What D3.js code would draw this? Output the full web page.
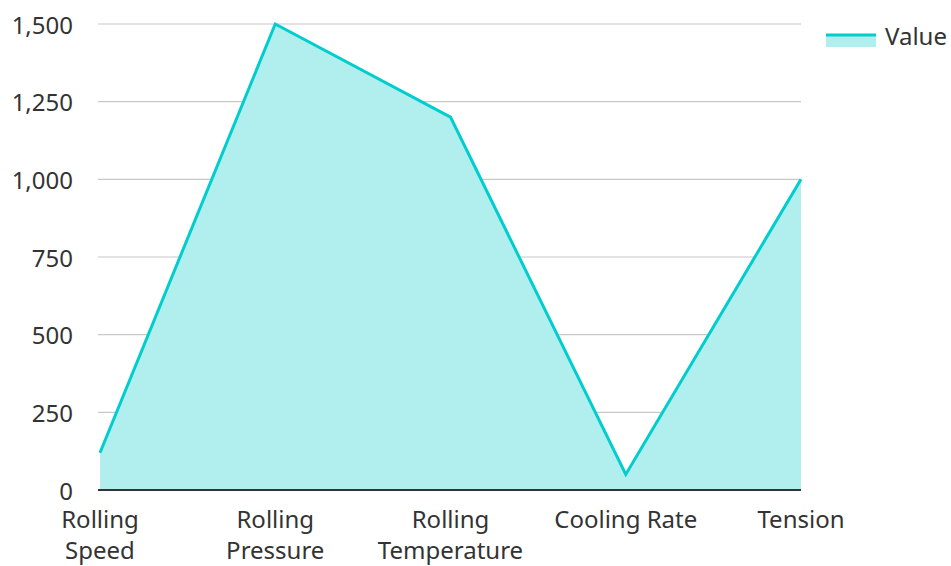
<!DOCTYPE html>
<html>
<head>
<meta charset="utf-8">
<script src="https://cdn.jsdelivr.net/npm/d3@7"></script>
<style>
  html, body { margin: 0; padding: 0; background: #fff; }
  svg text { font-family: "Noto Sans", "Open Sans", sans-serif; fill: #333; }
</style>
</head>
<body>
<svg id="chart" width="951" height="566"></svg>
<script>
// Rolling mill process parameters
const categories = ["Rolling Speed", "Rolling Pressure", "Rolling Temperature", "Cooling Rate", "Tension"];
const values = [120, 1500, 1200, 50, 1000];
const yTicks = [0, 250, 500, 750, 1000, 1250, 1500];
const seriesName = "Value";

const lineColor = "#00cdcd";
const fillColor = "#b1efee";
const fontSize = "24px";

const svg = d3.select("#chart");
const margin = { left: 100, right: 150, top: 24, bottom: 76 };
const W = 951, H = 566;

const x = d3.scalePoint().domain(categories).range([margin.left, W - margin.right]);
const y = d3.scaleLinear().domain([0, 1500]).range([H - margin.bottom, margin.top]);

// horizontal gridlines
svg.append("g").selectAll("line").data(yTicks.filter(d => d !== 0)).join("line")
  .attr("x1", margin.left - 2).attr("x2", W - margin.right)
  .attr("y1", d => y(d)).attr("y2", d => y(d))
  .attr("stroke", "#c8c8c8").attr("stroke-width", 1.2);

// y tick labels
svg.append("g").selectAll("text").data(yTicks).join("text")
  .attr("x", margin.left - 27).attr("y", d => y(d))
  .attr("text-anchor", "end").attr("dominant-baseline", "central")
  .style("font-size", fontSize)
  .text(d => d3.format(",")(d));

const data = categories.map((c, i) => ({ c, v: values[i] }));

// filled area
svg.append("path").datum(data)
  .attr("d", d3.area().x(d => x(d.c)).y0(y(0)).y1(d => y(d.v)))
  .attr("fill", fillColor);

// line
svg.append("path").datum(data)
  .attr("d", d3.line().x(d => x(d.c)).y(d => y(d.v)))
  .attr("fill", "none").attr("stroke", lineColor).attr("stroke-width", 3)
  .attr("stroke-linejoin", "miter");

// x axis baseline
svg.append("line")
  .attr("x1", margin.left - 2).attr("x2", W - margin.right)
  .attr("y1", y(0)).attr("y2", y(0))
  .attr("stroke", "#333").attr("stroke-width", 2);

// x labels (wrapped where they are long)
const labelLines = { "Rolling Speed": ["Rolling", "Speed"], "Rolling Pressure": ["Rolling", "Pressure"], "Rolling Temperature": ["Rolling", "Temperature"] };
const xl = svg.append("g").selectAll("text").data(categories).join("text")
  .attr("x", d => x(d)).attr("y", y(0) + 38)
  .attr("text-anchor", "middle")
  .style("font-size", fontSize);
xl.each(function(d) {
  const lines = labelLines[d] || [d];
  d3.select(this).selectAll("tspan").data(lines).join("tspan")
    .attr("x", x(d)).attr("dy", (l, i) => i === 0 ? 0 : 31)
    .text(l => l);
});

// legend
const lg = svg.append("g").attr("transform", "translate(826,35)");
lg.append("rect").attr("x", 0).attr("y", 0).attr("width", 50).attr("height", 12).attr("fill", fillColor);
lg.append("line").attr("x1", 0).attr("x2", 50).attr("y1", 0).attr("y2", 0)
  .attr("stroke", lineColor).attr("stroke-width", 3);
lg.append("text").attr("x", 59).attr("y", 0).attr("dominant-baseline", "central")
  .style("font-size", fontSize).text(seriesName);
</script>
</body>
</html>
